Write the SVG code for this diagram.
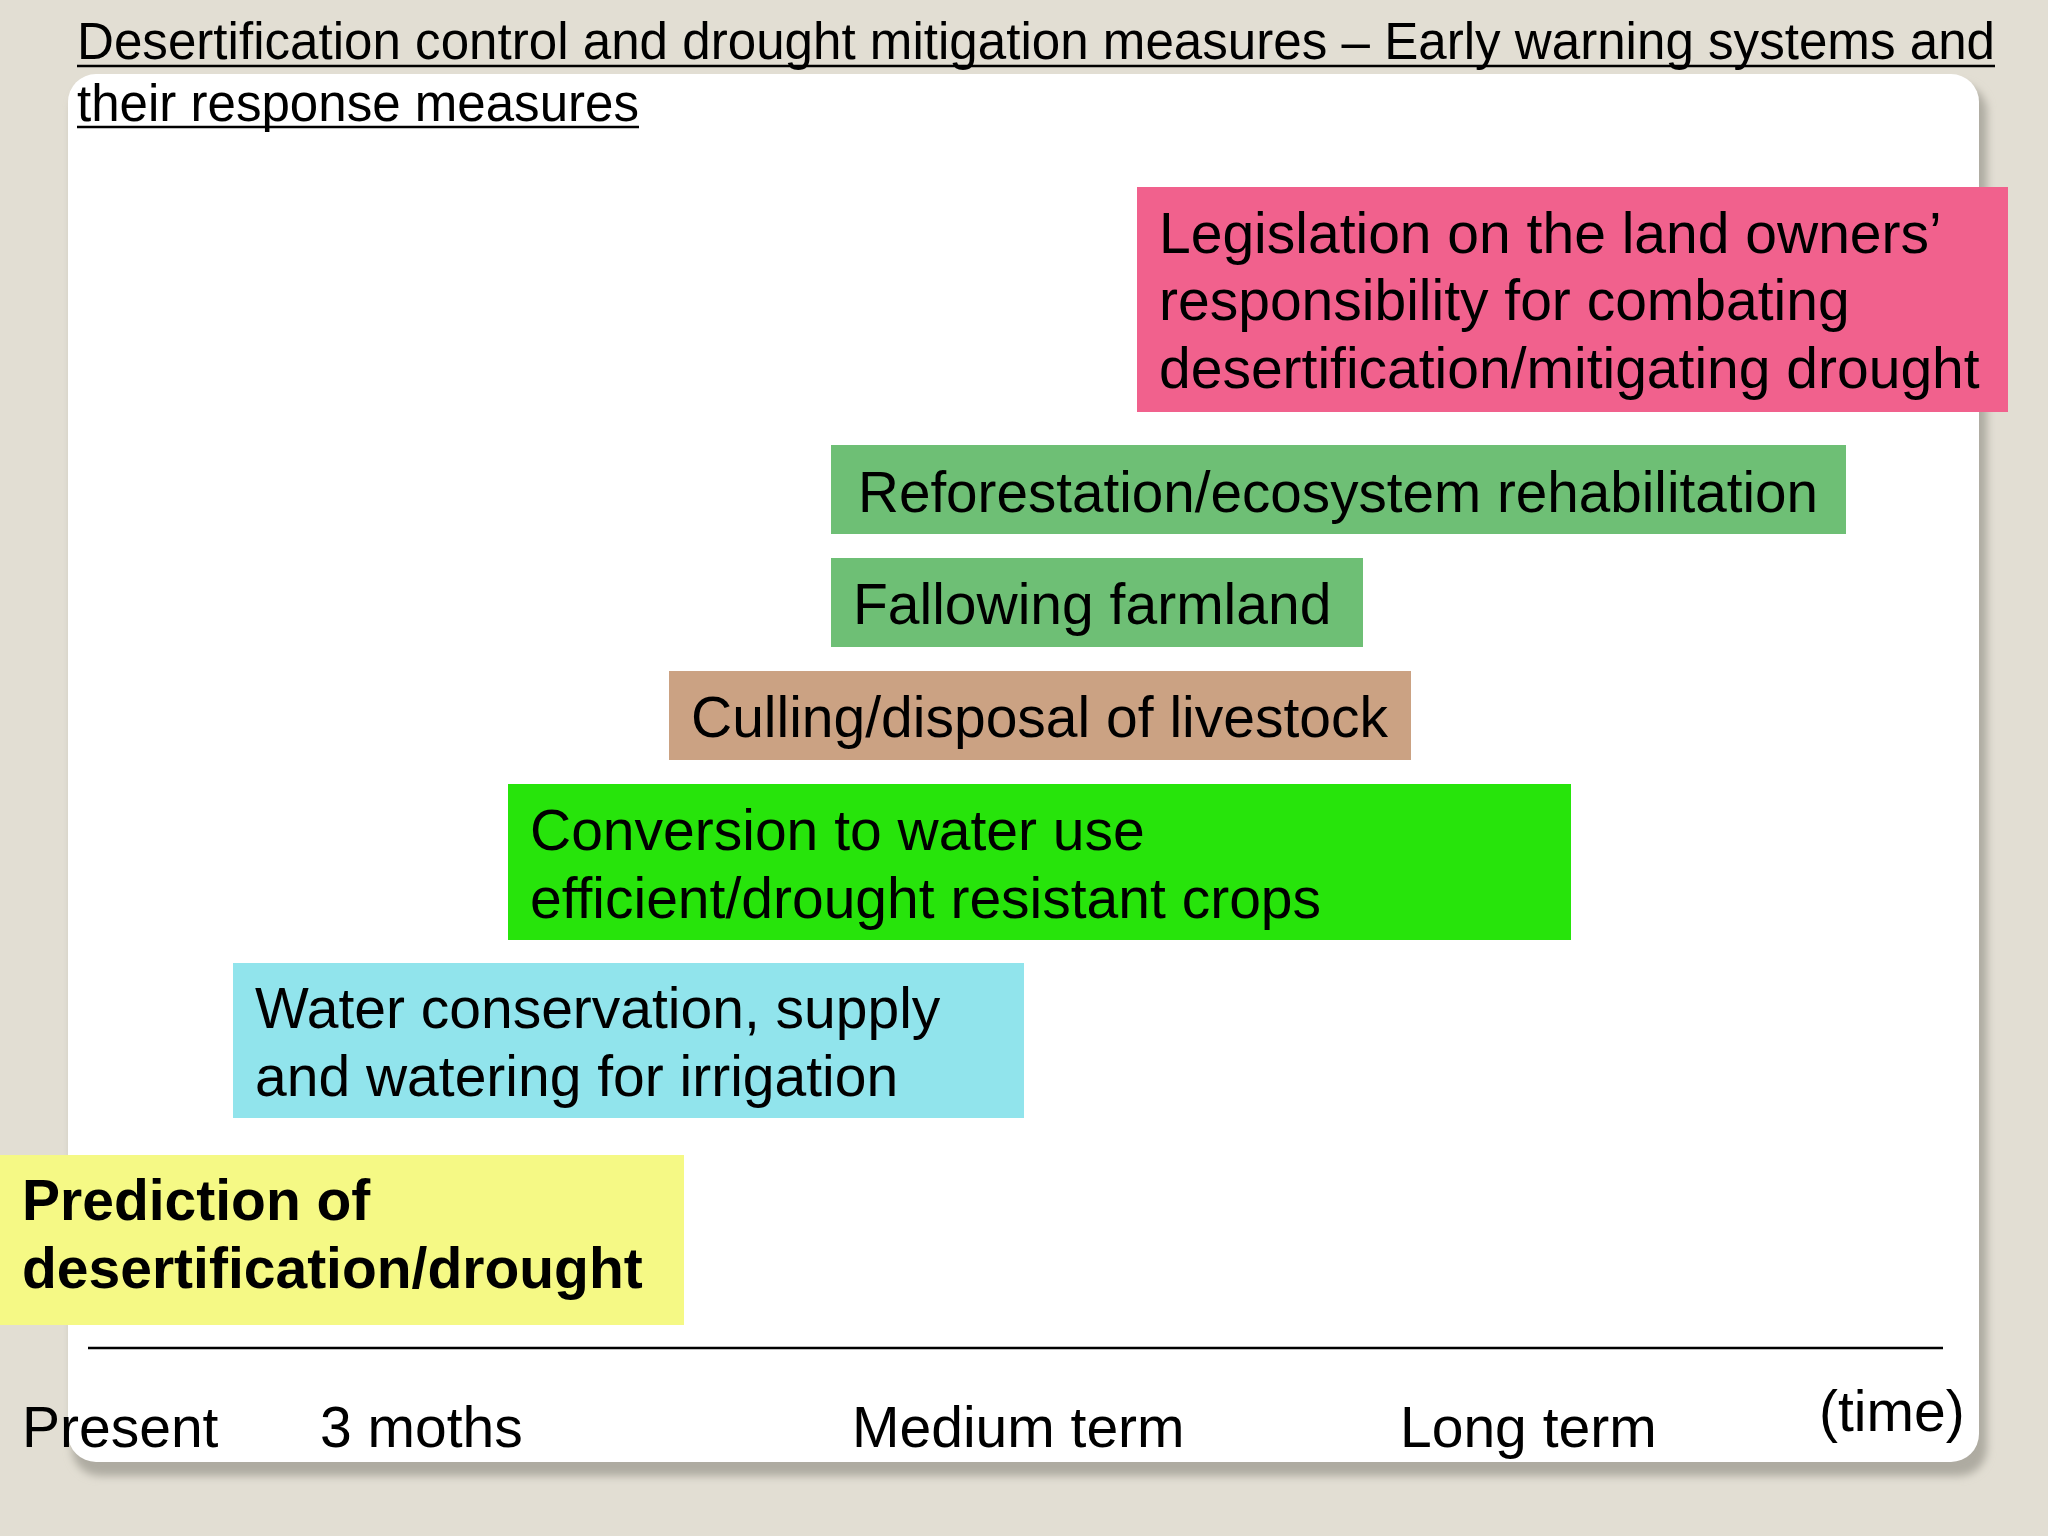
<svg xmlns="http://www.w3.org/2000/svg" width="2048" height="1536" viewBox="0 0 2048 1536">
<style>
  .t { font-family: "Liberation Sans", Arial, sans-serif; font-size: 57px; fill: #000; }
  .b { font-weight: bold; }
  .title { font-family: "Liberation Sans", Arial, sans-serif; font-size: 51px; fill: #000; }
</style>
<defs>
  <filter id="shadow" x="-5%" y="-5%" width="110%" height="110%">
    <feGaussianBlur stdDeviation="4"/>
  </filter>
</defs>
<rect x="0" y="0" width="2048" height="1536" fill="#e2ded3"/>
<g id="panel">
  <rect x="72" y="84" width="1915" height="1392" rx="28" ry="28" fill="#aeaba1" filter="url(#shadow)"/>
  <rect x="68" y="74" width="1911" height="1388" rx="28" ry="28" fill="#ffffff"/>
</g>
<g id="title">
  <text class="title" x="77" y="59" textLength="1918" lengthAdjust="spacingAndGlyphs">Desertification control and drought mitigation measures – Early warning systems and</text>
  <line x1="77" y1="66" x2="1995" y2="66" stroke="#000" stroke-width="2.5"/>
  <text class="title" x="77" y="121" textLength="562" lengthAdjust="spacingAndGlyphs">their response measures</text>
  <line x1="77" y1="127" x2="639" y2="127" stroke="#000" stroke-width="2.5"/>
</g>
<g id="legislation">
  <rect x="1137" y="187" width="871" height="225" fill="#f1618d"/>
  <text class="t" x="1159" y="253">Legislation on the land owners’</text>
  <text class="t" x="1159" y="320">responsibility for combating</text>
  <text class="t" x="1159" y="388">desertification/mitigating drought</text>
</g>
<g id="reforestation">
  <rect x="831" y="445" width="1015" height="89" fill="#6ebf75"/>
  <text class="t" x="858" y="512" textLength="960" lengthAdjust="spacingAndGlyphs">Reforestation/ecosystem rehabilitation</text>
</g>
<g id="fallowing">
  <rect x="831" y="558" width="532" height="89" fill="#6ebf75"/>
  <text class="t" x="853" y="624">Fallowing farmland</text>
</g>
<g id="culling">
  <rect x="669" y="671" width="742" height="89" fill="#cba283"/>
  <text class="t" x="691" y="737">Culling/disposal of livestock</text>
</g>
<g id="conversion">
  <rect x="508" y="784" width="1063" height="156" fill="#27e40b"/>
  <text class="t" x="530" y="850">Conversion to water use</text>
  <text class="t" x="530" y="918">efficient/drought resistant crops</text>
</g>
<g id="water">
  <rect x="233" y="963" width="791" height="155" fill="#91e4ec"/>
  <text class="t" x="255" y="1028">Water conservation, supply</text>
  <text class="t" x="255" y="1096">and watering for irrigation</text>
</g>
<g id="prediction">
  <rect x="0" y="1155" width="684" height="170" fill="#f5f985"/>
  <text class="t b" x="22" y="1220">Prediction of</text>
  <text class="t b" x="22" y="1288">desertification/drought</text>
</g>
<g id="connectors">
  <line x1="88" y1="1348" x2="1943" y2="1348" stroke="#000" stroke-width="2.5"/>
</g>
<g id="axis-labels">
  <text class="t" x="22" y="1447">Present</text>
  <text class="t" x="320" y="1447">3 moths</text>
  <text class="t" x="852" y="1447">Medium term</text>
  <text class="t" x="1400" y="1447">Long term</text>
  <text class="t" x="1819" y="1431">(time)</text>
</g>
</svg>
